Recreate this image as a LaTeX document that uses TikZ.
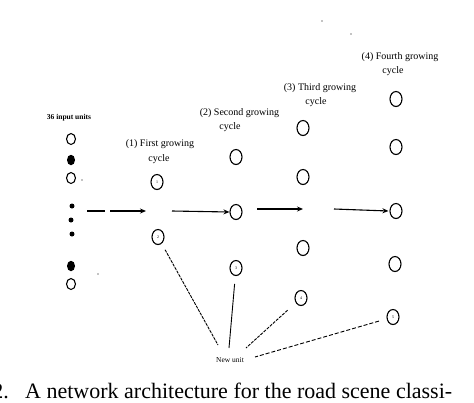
\documentclass[tikz,border=0pt]{standalone}
\usepackage{fontspec}
\setmainfont{Liberation Serif}
\usetikzlibrary{shapes.geometric,arrows.meta}
\begin{document}
\begin{tikzpicture}[x=1pt,y=-1pt,
  unit/.style={draw,ellipse,line width=1.1pt,minimum width=12pt,minimum height=15pt,inner sep=0pt,font=\fontsize{4}{4}\selectfont},
  inunit/.style={draw,ellipse,line width=1.1pt,minimum width=9pt,minimum height=11pt,inner sep=0pt},
  infill/.style={fill=black,ellipse,minimum width=8pt,minimum height=10.5pt,inner sep=0pt},
  indot/.style={fill=black,circle,minimum size=5pt,inner sep=0pt},
  lbl/.style={font=\fontsize{10}{12}\selectfont,inner sep=0pt},
  small/.style={font=\fontsize{7.5}{9}\selectfont\bfseries,inner sep=0pt},
  flow/.style={line width=1.1pt,-{Stealth[length=6pt,width=5pt]}},
  link/.style={line width=0.9pt}]
\useasboundingbox (0,0) rectangle (474,402);
% input units
\node[small] (intitle) at (69,118) {36 input units};
\node[inunit] (i1) at (71,139) {};
\node[infill] (i2) at (71,160) {};
\node[inunit] (i3) at (71,178) {};
\node[indot] (d1) at (72,206) {};
\node[indot] (d2) at (71,220) {};
\node[indot] (d3) at (72,234) {};
\node[infill] (i4) at (71,266) {};
\node[inunit] (i5) at (71,284) {};
% stray specks
\fill (82,180) circle (0.7);
\fill (98,274) circle (0.7);
\fill (322,21) circle (0.7);
\fill (351,34) circle (0.7);
% cycle 1
\node[lbl] (t1a) at (160,144) {(1) First growing};
\node[lbl] (t1b) at (159,159) {cycle};
\node[unit] (c1a) at (157,182) {1};
\node[unit] (c1b) at (158,237) {2};
% cycle 2
\node[lbl] (t2a) at (239.5,113) {(2) Second growing};
\node[lbl] (t2b) at (230,127) {cycle};
\node[unit] (c2a) at (236,157) {};
\node[unit] (c2b) at (236,212) {};
\node[unit] (c2c) at (236,268) {3};
% cycle 3
\node[lbl] (t3a) at (320,88) {(3) Third growing};
\node[lbl] (t3b) at (316,102) {cycle};
\node[unit] (c3a) at (303,128) {};
\node[unit] (c3b) at (303,177) {};
\node[unit] (c3c) at (303,248) {};
\node[unit] (c3d) at (301,298) {4};
% cycle 4
\node[lbl] (t4a) at (400,57) {(4) Fourth growing};
\node[lbl] (t4b) at (393,71) {cycle};
\node[unit] (c4a) at (396,99) {};
\node[unit] (c4b) at (396,147) {};
\node[unit] (c4c) at (396,211) {};
\node[unit] (c4d) at (395,264) {};
\node[unit] (c4e) at (393,317) {5};
% flow arrows
\coordinate (a0) at (87,211);
\coordinate (a0b) at (105,211);
\coordinate (a1) at (110,211);
\coordinate (a1e) at (146,211);
\coordinate (a2) at (172,211);
\coordinate (a3) at (257,209);
\coordinate (a3e) at (303,209);
\coordinate (a4) at (334,209);
\draw[line width=1.1pt] (a0) -- (a0b);
\draw[flow] (a1) -- (a1e);
\draw[flow] (a2) -- (c2b.west);
\draw[flow] (a3) -- (a3e);
\draw[flow] (a4) -- ([xshift=-1pt]c4c.west);
% new unit
\node[small,font=\fontsize{7.5}{9}\selectfont] (nu) at (230,360) {New unit};
\coordinate (n1) at (218,345);
\coordinate (n2) at (229,348);
\coordinate (n3) at (246,348);
\coordinate (n4) at (255,357);
\draw[link,dash pattern=on 3pt off 1pt,shorten <=7pt] (c1b) -- (n1);
\draw[link,shorten <=8pt] (c2c) -- (n2);
\draw[link,dash pattern=on 3pt off 1.2pt,shorten <=11pt] (c3d) -- (n3);
\draw[link,dash pattern=on 4pt off 2pt,shorten <=8pt] (c4e) -- (n4);
% caption
\node[anchor=base east,inner sep=0pt,font=\fontsize{22}{26}\selectfont] (capn) at (9,398) {2.};
\node[anchor=base west,inner sep=0pt,font=\fontsize{22}{26}\selectfont] (cap) at (25,398) {A network architecture for the road scene classi-};
\end{tikzpicture}
\end{document}
